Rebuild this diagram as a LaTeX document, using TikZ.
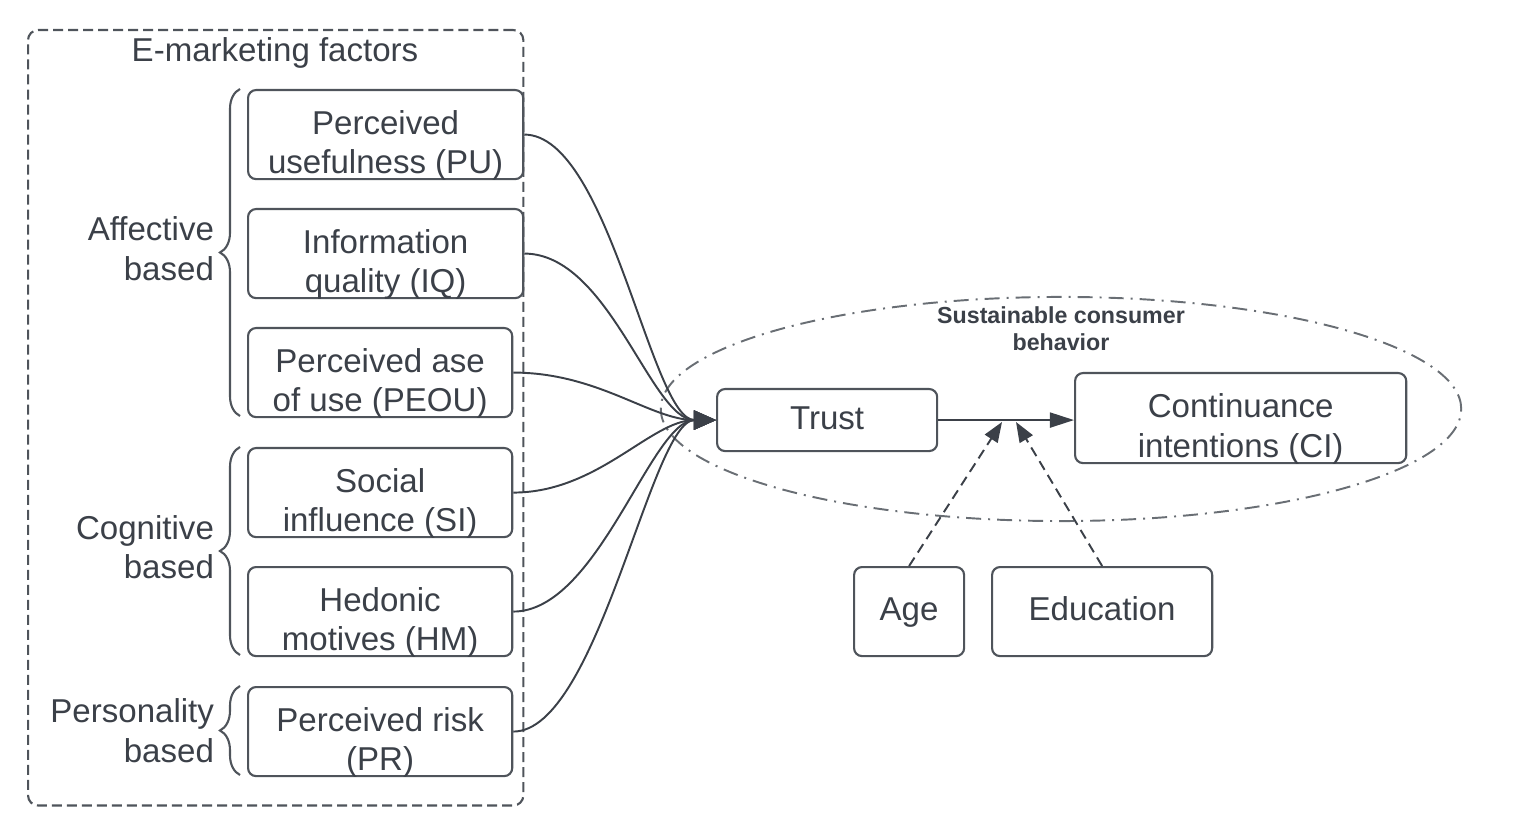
\documentclass[tikz,border=0pt]{standalone}
\usepackage{fontspec}
\setmainfont{Liberation Sans}
\usetikzlibrary{positioning}
\usetikzlibrary{calc}
\usetikzlibrary{arrows.meta}
\usetikzlibrary{decorations.pathreplacing}

\definecolor{ink}{HTML}{3B4048}
\definecolor{edge}{HTML}{4F545B}

\begin{document}
\begin{tikzpicture}[x=0.01cm,y=-0.01cm]

\tikzstyle{factorBox}=[rectangle,anchor=north west,align=center,minimum height=0.89cm,inner ysep=0pt,text height=22.2pt,text depth=0pt,draw=edge,line width=0.6pt,rounded corners=0.08cm,text=ink,font=\fontsize{9.4}{11.2}\selectfont];
\tikzstyle{oneLine}=[text height=5.2pt,text depth=0pt];
\tikzstyle{groupBox}=[rectangle,anchor=north west,minimum width=4.95cm,minimum height=7.75cm,draw=edge,line width=0.6pt,rounded corners=0.1cm,dash pattern=on 0.1cm off 0.05cm];
\tikzstyle{groupText}=[align=right,text=ink,inner sep=0pt,font=\fontsize{9.4}{11.2}\selectfont];
\tikzstyle{link}=[draw=ink,line width=0.55pt,-{Triangle[length=0.22cm,width=0.19cm]}];
\tikzstyle{modLink}=[draw=ink,line width=0.55pt,dash pattern=on 0.1cm off 0.06cm,-{Triangle[length=0.2cm,width=0.15cm]}];
\tikzstyle{grpBrace}=[draw=edge,line width=0.6pt,decorate,decoration={brace,amplitude=0.2cm}];
%\tikzstyle{factorBox}=[rectangle,minimum size=1.0cm,draw=gray,rounded corners,align=center];

\useasboundingbox (0,0) rectangle (1524,840);

% e-marketing factors
\node [groupBox] (emk) at (27,29) {};
\node [text=ink,font=\fontsize{9.4}{11}\selectfont] (emkTitle) at (275,53) {E-marketing factors};

\foreach \name/\ypos/\bw/\txt in {pu/89/2.75/{Perceived\\usefulness (PU)},iq/208/2.75/{Information\\quality (IQ)},peou/327/2.64/{Perceived ase\\of use (PEOU)},si/447/2.64/{Social\\influence (SI)},hm/566/2.64/{Hedonic\\motives (HM)},pr/686/2.64/{Perceived risk\\(PR)}}{
	\node [factorBox,minimum width=\bw cm] (\name) at (247,\ypos) {\txt};
};

\draw [grpBrace] (240,416) -- (240,89) node [groupText,midway,left=0.25cm,yshift=0.04cm] (affective) {Affective\\based};
\draw [grpBrace] (240,655) -- (240,447) node [groupText,midway,left=0.25cm,yshift=0.04cm] (cognitive) {Cognitive\\based};
\draw [grpBrace] (240,775) -- (240,686) node [groupText,midway,left=0.25cm] (personality) {Personality\\based};

% sustainable consumer behavior
\draw [draw=edge!85,line width=0.55pt,dash pattern=on 0.15cm off 0.07cm on 0.02cm off 0.07cm] (1061,409) ellipse [x radius=4cm,y radius=1.12cm];
\node [align=center,text=ink,font=\bfseries\fontsize{6.6}{7.7}\selectfont] (scbTitle) at (1061,329) {Sustainable consumer\\behavior};

\node [factorBox,oneLine,minimum width=2.2cm,minimum height=0.62cm] (trust) at (716,388) {Trust};
\node [factorBox,minimum width=3.31cm,minimum height=0.9cm] (ci) at (1074,372) {Continuance\\intentions (CI)};
\node [factorBox,oneLine,minimum width=1.1cm] (age) at (853,566) {Age};
\node [factorBox,oneLine,minimum width=2.2cm] (edu) at (991,566) {Education};

\foreach \src in {pu,iq,peou,si,hm,pr}{
	\draw [link] (\src.east) .. controls +(85,0) and +(-65,0) .. (trust.west);
};

\draw [link,-{Triangle[length=0.24cm,width=0.15cm]}] (trust.east) -- (trust.east -| ci.west);

\coordinate (modA) at (1002,422);
\coordinate (modE) at (1016,422);
\draw [modLink] (age.north) -- (modA);
\draw [modLink] (edu.north) -- (modE);

\end{tikzpicture}
\end{document}
